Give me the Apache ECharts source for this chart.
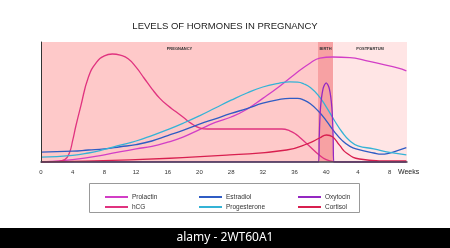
<!DOCTYPE html>
<html>
<head>
<meta charset="utf-8">
<script src="https://cdn.jsdelivr.net/npm/echarts@6/dist/echarts.min.js"></script>
<style>
html,body{margin:0;padding:0;background:#fff;}
#c{width:450px;height:248px;}
</style>
</head>
<body>
<div id="c"></div>
<script>
// Tick labels along the x axis (one per evenly spaced tick)
var tickLabels = ['0','4','8','12','16','20','28','32','36','40','4','8'];
var axisUnit = 'Weeks';

// Phase bands [start, end] in tick units
var phases = [
  {name:'PREGNANCY', from:0, to:8.74},
  {name:'BIRTH', from:8.74, to:9.22},
  {name:'POSTPARTUM', from:9.22, to:11.55}
];

// Series values: [x in tick units, relative level 0-100]
var prolactin = [[0,0],[1,2],[2,6],[3,11],[3.5,13],[4,16.5],[4.5,21],[5,27],[5.5,33],[6,37.5],[6.5,44],[7,53],[7.5,62.5],[8,73],[8.5,82.5],[8.8,86.5],[9.2,87.5],[9.75,87],[10.25,84.5],[10.75,81.5],[11.25,78.5],[11.53,76]];
var hcg = [[0,0],[0.5,0.5],[0.75,2],[0.9,8],[1.0,18],[1.1,30],[1.25,46],[1.5,71],[1.75,83],[2.0,88.5],[2.25,90],[2.5,89],[2.75,86],[3.0,79],[3.25,70],[3.5,61],[3.75,53],[4.0,47],[4.25,42],[4.5,37],[4.75,32],[5.0,28.5],[5.25,27.5],[6.0,27.5],[7.0,27.5],[7.6,27.5],[7.85,26],[8.05,23],[8.25,18.5],[8.5,12.5],[8.75,6.5],[9.0,2],[9.25,0.3],[9.5,0],[10.5,0],[11.53,0]];
var estradiol = [[0,8.3],[1,9],[1.5,10],[2,11],[2.5,12.7],[3,14.5],[3.5,17.5],[4,22],[4.5,26.5],[5,31.5],[5.5,36],[6,40.5],[6.5,44.5],[7,49],[7.5,52],[7.85,53],[8.1,53],[8.3,51.5],[8.5,48.5],[8.75,42.5],[9,34.5],[9.25,25.5],[9.5,18],[9.75,13],[10,10.5],[10.5,7.5],[10.75,6.5],[11,7.5],[11.25,9.5],[11.53,12]];
var progesterone = [[0,4],[1,5.5],[1.5,7.5],[2,10.5],[2.5,14],[3,17.5],[3.5,22],[4,27],[4.5,32.5],[5,38.5],[5.5,45],[6,51.5],[6.5,57.5],[7,62.5],[7.5,65.5],[7.85,66.7],[8.1,66.5],[8.3,65],[8.5,62],[8.75,55.5],[9,46],[9.25,35],[9.5,25],[9.75,17.5],[10,13.5],[10.5,11],[11,8],[11.53,6]];
var oxytocin = [[0,0],[8,0],[8.76,0],[8.78,20],[8.82,45],[8.9,61],[9.0,66],[9.1,61],[9.18,45],[9.22,20],[9.24,0],[10,0],[11.53,0]];
var cortisol = [[0,0],[2.8,1.7],[5.96,6],[7.75,10],[8.48,16],[8.79,20],[9.01,22.5],[9.2,21],[9.42,14],[9.64,7.5],[10.05,2.5],[10.68,1],[11.53,1]];

var names = ['Prolactin','hCG','Estradiol','Progesterone','Oxytocin','Cortisol'];
var colors = ['#d23ec6','#e0337f','#2f5cc4','#34b3d6','#9428c2','#d81f4f'];
var datas = [prolactin,hcg,estradiol,progesterone,oxytocin,cortisol];
var bandColors = ['#fec9c9','#f7a1a3','#ffe5e5'];

var chart = echarts.init(document.getElementById('c'), null, {renderer:'canvas'});

var series = [{
  type:'line', data:[], silent:true, z:1,
  markArea:{
    silent:true,
    data: phases.map(function(p,i){
      return [{xAxis:p.from, itemStyle:{color:bandColors[i], opacity:1},
               label:{show:true, position:'insideTop', distance:5, formatter:p.name,
                      fontSize:4, fontWeight:'bold', color:'#333', fontFamily:'Liberation Sans'}},
              {xAxis:p.to}];
    })
  }
}];
names.forEach(function(n,i){
  series.push({
    name:n, type:'line', data:datas[i], smooth: (n==='Oxytocin')?0.3:0.5,
    showSymbol:false, symbol:'none', z:3+i,
    lineStyle:{color:colors[i], width:1.3},
    itemStyle:{color:colors[i]}
  });
});

function legendCol(left, items){
  return {
    left:left, top:188, orient:'vertical', data:items,
    itemWidth:23, itemHeight:2, itemGap:2, icon:'rect', selectedMode:false,
    textStyle:{fontSize:6.5, color:'#333', fontFamily:'Liberation Sans', lineHeight:8, padding:[0,0,0,-1]}
  };
}

chart.setOption({
  animation:false,
  backgroundColor:'#fff',
  title:{text:'LEVELS OF HORMONES IN PREGNANCY', left:'center', top:16,
    textStyle:{fontSize:9.5, fontWeight:'normal', color:'#222', fontFamily:'Liberation Sans'}},
  grid:{left:41, right:43, top:42, bottom:86},
  legend:[legendCol(100,['Prolactin','hCG']), legendCol(194,['Estradiol','Progesterone']), legendCol(293,['Oxytocin','Cortisol'])],
  xAxis:{type:'value', min:0, max:11.55, interval:1, z:10,
    axisLine:{lineStyle:{color:'#4a4450', width:1.5}},
    axisTick:{show:false}, splitLine:{show:false},
    axisLabel:{fontSize:6, color:'#333', margin:7, fontFamily:'Liberation Sans',
      showMaxLabel:false,
      formatter:function(v){ return (Math.abs(v-Math.round(v))<1e-6 && tickLabels[Math.round(v)]!==undefined) ? tickLabels[Math.round(v)] : ''; }}
  },
  yAxis:{type:'value', min:0, max:100, z:10,
    axisLine:{show:true, lineStyle:{color:'#333', width:1}},
    axisTick:{show:false}, axisLabel:{show:false}, splitLine:{show:false}},
  graphic:[
    {type:'text', x:398, y:172, style:{text:axisUnit, fill:'#222', font:'7px "Liberation Sans"', textAlign:'left', textVerticalAlign:'middle'}, z:100},
    {type:'rect', shape:{x:89.5, y:183.5, width:270, height:29}, style:{fill:'none', stroke:'#999', lineWidth:1}, z:100},
    {type:'rect', shape:{x:0, y:228, width:450, height:20}, style:{fill:'#000'}, z:100},
    {type:'text', x:225, y:238, style:{text:'alamy - 2WT60A1', fill:'#fff', font:'12px "Noto Sans"', textAlign:'center', textVerticalAlign:'middle'}, z:101}
  ],
  series:series
});
</script>
</body>
</html>
